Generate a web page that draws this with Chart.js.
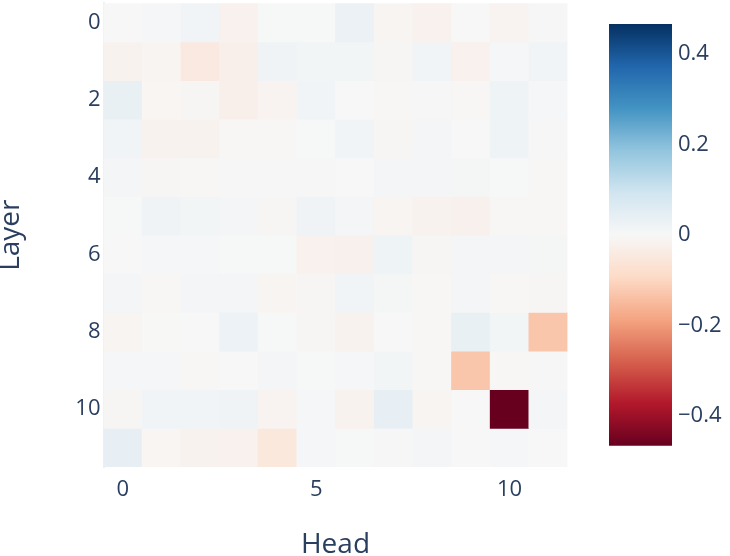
<!DOCTYPE html>
<html lang="en">
<head>
  <meta charset="UTF-8">
  <title>Layer / Head heatmap</title>
  <script src="https://cdn.jsdelivr.net/npm/chart.js"></script>
  <style>
    body {
      margin: 0;
      padding: 0;
      background: #fff;
    }
    #wrap {
      position: relative;
      width: 730px;
      height: 556px;
    }
    #wrap canvas {
      position: absolute;
      left: 0;
      top: 0;
    }
  </style>
</head>
<body>

  <div id="wrap">
    <canvas id="heatmap" width="730" height="556"></canvas>
    <canvas id="colorbar" width="730" height="556"></canvas>
  </div>

  <script>
    var heads = [0, 1, 2, 3, 4, 5, 6, 7, 8, 9, 10, 11];
    var layers = [0, 1, 2, 3, 4, 5, 6, 7, 8, 9, 10, 11];
    var xTicks = [0, 5, 10];
    var yTicks = [0, 2, 4, 6, 8, 10];
    var cbTicks = [-0.4, -0.2, 0, 0.2, 0.4];
    var zMin = -0.466;
    var zMax = 0.466;

    // one row per layer, one value per head
    var values = [
      [0.000, 0.005, 0.015, -0.020, 0.002, 0.002, 0.030, -0.010, -0.020, 0.000, -0.012, 0.003],
      [-0.015, -0.010, -0.045, -0.025, 0.020, 0.012, 0.012, -0.006, 0.018, -0.020, 0.006, 0.014],
      [0.035, -0.008, -0.005, -0.025, -0.012, 0.014, 0.000, -0.003, -0.002, -0.004, 0.022, 0.004],
      [0.014, -0.016, -0.018, -0.004, -0.004, 0.002, 0.018, -0.005, 0.010, 0.000, 0.022, 0.003],
      [0.008, -0.005, -0.003, -0.002, 0.003, -0.002, 0.001, 0.008, 0.008, 0.007, 0.002, -0.004],
      [0.002, 0.020, 0.012, 0.008, -0.006, 0.020, 0.008, -0.010, -0.015, -0.022, -0.004, -0.004],
      [0.001, 0.005, 0.005, 0.002, 0.002, -0.020, -0.022, 0.022, -0.005, 0.010, 0.010, 0.007],
      [0.008, -0.004, 0.009, 0.009, -0.010, -0.006, 0.018, 0.007, -0.003, 0.010, -0.004, -0.005],
      [-0.010, -0.001, 0.000, 0.028, 0.002, -0.006, -0.015, 0.000, -0.004, 0.035, 0.012, -0.130],
      [0.006, 0.006, -0.004, 0.000, 0.008, 0.002, 0.006, 0.012, -0.003, -0.130, -0.004, -0.002],
      [-0.006, 0.018, 0.014, 0.020, -0.012, 0.006, -0.015, 0.040, -0.010, 0.001, -0.466, 0.010],
      [0.040, -0.008, -0.018, -0.020, -0.050, 0.006, 0.002, 0.003, 0.008, 0.001, 0.004, 0.001]
    ];

    var rdbu = [
      [103, 0, 31], [178, 24, 43], [214, 96, 77], [244, 165, 130], [253, 219, 199],
      [247, 247, 247], [209, 229, 240], [146, 197, 222], [67, 147, 195], [33, 102, 172], [5, 48, 97]
    ];

    var textColor = '#2a3f5f';
    var fontFamily = "'Open Sans', 'Noto Sans', sans-serif";

    function colorFor(v) {
      var p = (v - zMin) / (zMax - zMin);
      if (p < 0) p = 0;
      if (p > 1) p = 1;
      var s = p * 10;
      var i = Math.min(9, Math.floor(s));
      var f = s - i;
      var a = rdbu[i], b = rdbu[i + 1];
      var r = Math.round(a[0] + (b[0] - a[0]) * f);
      var g = Math.round(a[1] + (b[1] - a[1]) * f);
      var bl = Math.round(a[2] + (b[2] - a[2]) * f);
      return 'rgb(' + r + ',' + g + ',' + bl + ')';
    }

    function minusSign(v) {
      return v < 0 ? '\u2212' + Math.abs(v) : String(v);
    }

    // no extra room for half tick labels at the ends of the axes
    function noEdgePadding(scale) {
      scale.paddingTop = 0;
      scale.paddingBottom = 0;
      scale.paddingLeft = 0;
      scale.paddingRight = 0;
    }

    // every layer is a dataset of floating bars [layer-0.5, layer+0.5]
    var datasets = layers.map(function (layer, r) {
      return {
        label: 'Layer ' + layer,
        data: heads.map(function () { return [layer - 0.5, layer + 0.5]; }),
        backgroundColor: heads.map(function (h, c) { return colorFor(values[r][c]); }),
        borderWidth: 0,
        barPercentage: 1,
        categoryPercentage: 1,
        grouped: false
      };
    });

    var heatmap = new Chart(document.getElementById('heatmap'), {
      type: 'bar',
      data: {
        labels: heads,
        datasets: datasets
      },
      options: {
        responsive: false,
        animation: false,
        layout: {
          padding: { top: 3.3, right: 162.5, bottom: 0, left: 0 }
        },
        plugins: {
          legend: { display: false },
          tooltip: { enabled: false }
        },
        scales: {
          x: {
            type: 'category',
            offset: true,
            grid: { display: false, drawTicks: false },
            border: { display: false },
            ticks: {
              autoSkip: false,
              maxRotation: 0,
              padding: 9.5,
              color: textColor,
              font: { family: fontFamily, size: 22 },
              callback: function (value, index) {
                return xTicks.indexOf(heads[index]) !== -1 ? String(heads[index]) : '';
              }
            },
            title: {
              display: true,
              text: 'Head',
              color: textColor,
              font: { family: fontFamily, size: 28, lineHeight: 0.8 },
              padding: 0
            },
            afterFit: function (scale) {
              scale.height = 89;
              noEdgePadding(scale);
            }
          },
          y: {
            type: 'linear',
            reverse: true,
            min: -0.5,
            max: 11.5,
            grid: { display: false, drawTicks: false },
            border: { display: true, color: '#ebf0f8', width: 2 },
            afterBuildTicks: function (scale) {
              scale.ticks = yTicks.map(function (v) { return { value: v }; });
            },
            ticks: {
              padding: 3,
              color: textColor,
              font: { family: fontFamily, size: 22 }
            },
            title: {
              display: true,
              text: 'Layer',
              color: textColor,
              font: { family: fontFamily, size: 28, lineHeight: 0.8 },
              padding: 0
            },
            afterFit: function (scale) {
              scale.width = 103.5;
              noEdgePadding(scale);
            }
          }
        }
      }
    });

    var colorbar = new Chart(document.getElementById('colorbar'), {
      type: 'bar',
      data: {
        labels: [''],
        datasets: [{
          data: [[zMin, zMax]],
          borderWidth: 0,
          barPercentage: 1,
          categoryPercentage: 1,
          backgroundColor: function (ctx) {
            var area = ctx.chart.chartArea;
            if (!area) return rdbu[5];
            var grad = ctx.chart.ctx.createLinearGradient(0, area.bottom, 0, area.top);
            rdbu.forEach(function (c, k) {
              grad.addColorStop(k / 10, 'rgb(' + c.join(',') + ')');
            });
            return grad;
          }
        }]
      },
      options: {
        responsive: false,
        animation: false,
        layout: {
          padding: { top: 24, right: 0, bottom: 110.3, left: 609 }
        },
        plugins: {
          legend: { display: false },
          tooltip: { enabled: false }
        },
        scales: {
          x: { display: false },
          y: {
            position: 'right',
            min: zMin,
            max: zMax,
            grid: { display: false, drawTicks: false },
            border: { display: false },
            afterBuildTicks: function (scale) {
              scale.ticks = cbTicks.map(function (v) { return { value: v }; });
            },
            ticks: {
              padding: 6,
              color: textColor,
              font: { family: fontFamily, size: 22 },
              callback: function (v) { return minusSign(v); }
            },
            afterFit: function (scale) {
              scale.width = 58;
              noEdgePadding(scale);
            }
          }
        }
      }
    });
  </script>

</body>
</html>
